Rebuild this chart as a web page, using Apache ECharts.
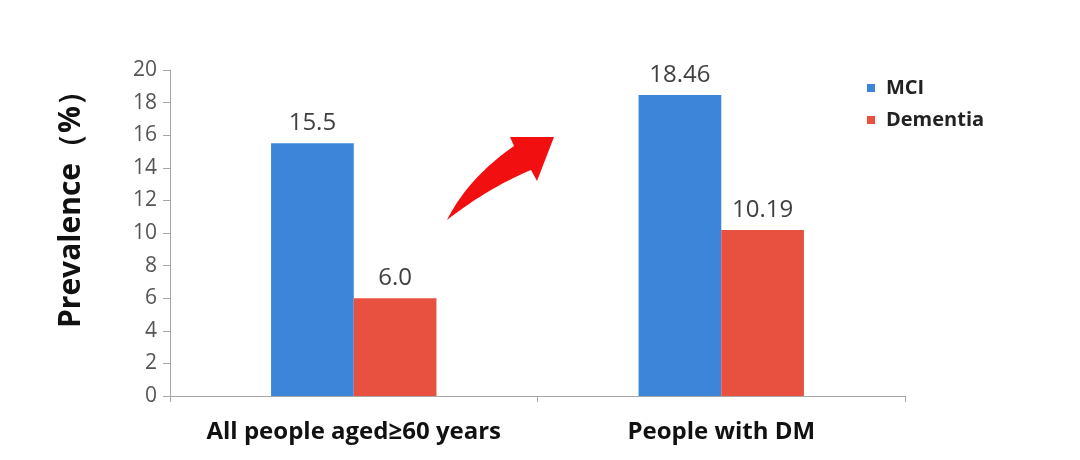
<!DOCTYPE html>
<html><head><meta charset="utf-8">
<script src="https://cdn.jsdelivr.net/npm/echarts@6/dist/echarts.min.js"></script>
<style>html,body{margin:0;padding:0;background:#fff}#c{width:1080px;height:460px}</style>
</head><body><div id="c"></div>
<script>
const categories = ['All people aged≥60 years', 'People with DM'];
const mciValues = [15.5, 18.46];
const dementiaValues = [6.0, 10.19];
const mciLabels = ['15.5', '18.46'];
const dementiaLabels = ['6.0', '10.19'];
const yTicks = [0, 2, 4, 6, 8, 10, 12, 14, 16, 18, 20];

// decorative arrow outline (quadratic curves sampled into a polygon)
function quad(p0, c, p1, n) {
  const pts = [];
  for (let i = 0; i <= n; i++) {
    const t = i / n, u = 1 - t;
    pts.push([u*u*p0[0] + 2*u*t*c[0] + t*t*p1[0], u*u*p0[1] + 2*u*t*c[1] + t*t*p1[1]]);
  }
  return pts;
}
const arrowPts = [].concat(
  quad([447, 220], [468, 178], [514, 146], 20),
  [[510, 137], [554, 137], [537, 181]],
  quad([531, 170], [488, 188], [447, 220], 20)
);

const chart = echarts.init(document.getElementById('c'));
const labelStyle = {show: true, position: 'top', distance: 8, fontSize: 24, color: '#404040', fontFamily: 'Open Sans'};
chart.setOption({
  backgroundColor: '#fff',
  animation: false,
  grid: {left: 170, right: 175, top: 70, bottom: 64},
  legend: {
    orient: 'vertical', left: 862, top: 73, icon: 'rect', itemWidth: 8, itemHeight: 8, itemGap: 12,
    textStyle: {fontSize: 20, fontWeight: 'bold', color: '#222', fontFamily: 'Open Sans', padding: [0, 0, 0, 6]},
    data: ['MCI', 'Dementia']
  },
  xAxis: {
    type: 'category', data: categories,
    axisLine: {lineStyle: {color: '#a6a6a6'}},
    axisTick: {show: true, length: 6, lineStyle: {color: '#a6a6a6'}},
    axisLabel: {interval: 0, margin: 24, fontSize: 24, fontWeight: 'bold', color: '#111', fontFamily: 'Open Sans'}
  },
  yAxis: {
    type: 'value', min: yTicks[0], max: yTicks[yTicks.length - 1], interval: 2,
    name: 'Prevalence（%）', nameLocation: 'middle', nameGap: 84,
    nameTextStyle: {fontSize: 30, fontWeight: 'bold', color: '#111', fontFamily: 'Open Sans', padding: [0, 0, 0, 62]},
    axisLine: {show: true, lineStyle: {color: '#a6a6a6'}},
    axisTick: {show: true, length: 7, lineStyle: {color: '#a6a6a6'}},
    splitLine: {show: false},
    axisLabel: {margin: 13, fontSize: 21, color: '#555', fontFamily: 'Open Sans'}
  },
  series: [
    {name: 'MCI', type: 'bar', data: mciValues, barGap: '0%', barCategoryGap: '55%',
     itemStyle: {color: '#3D85D8'},
     label: Object.assign({}, labelStyle, {formatter: p => mciLabels[p.dataIndex]})},
    {name: 'Dementia', type: 'bar', data: dementiaValues,
     itemStyle: {color: '#E8503F'},
     label: Object.assign({}, labelStyle, {formatter: p => dementiaLabels[p.dataIndex]})}
  ],
  graphic: [{
    type: 'polygon',
    shape: {points: arrowPts},
    style: {fill: '#F20F0F'}
  }]
});
</script></body></html>
